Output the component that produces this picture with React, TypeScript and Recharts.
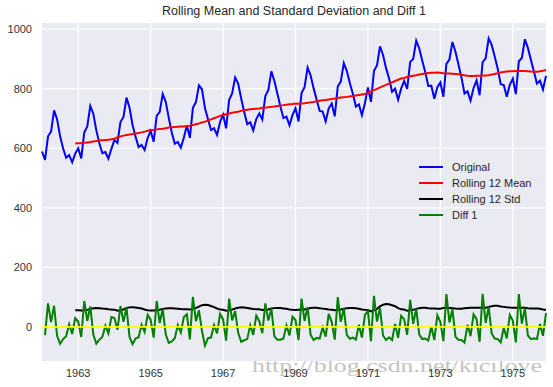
import React from 'react';
import { LineChart, Line, XAxis, YAxis, CartesianGrid, ReferenceLine, Legend } from 'recharts';

// Monthly series, Jan 1962 .. Dec 1975
const START_YEAR = 1962;

const ORIGINAL = [
  589, 561, 640, 656, 727, 697, 640, 599, 568, 577, 553, 582,
  600, 566, 653, 673, 742, 716, 660, 617, 583, 587, 565, 598,
  628, 618, 688, 705, 770, 736, 678, 639, 604, 611, 594, 634,
  658, 622, 709, 722, 782, 756, 702, 653, 615, 621, 602, 635,
  677, 635, 736, 755, 811, 798, 735, 697, 661, 667, 645, 688,
  713, 667, 762, 784, 837, 817, 767, 722, 681, 687, 660, 698,
  717, 696, 775, 796, 858, 826, 783, 740, 701, 706, 677, 711,
  734, 690, 785, 805, 871, 845, 801, 764, 725, 723, 690, 734,
  750, 707, 807, 824, 886, 859, 819, 783, 740, 747, 711, 751,
  804, 756, 860, 878, 942, 913, 869, 834, 790, 800, 763, 800,
  826, 799, 890, 900, 961, 935, 894, 855, 809, 810, 766, 805,
  821, 773, 883, 898, 957, 924, 881, 837, 784, 791, 760, 802,
  828, 778, 889, 902, 969, 947, 908, 867, 815, 812, 773, 813,
  834, 782, 892, 903, 966, 937, 896, 858, 817, 827, 797, 843,
];

// Rolling 12 mean, from Dec 1962
const ROLL_MEAN = [
  615.8,
  616.7, 617.1, 618.2, 619.6, 620.8, 622.4, 624.1, 625.6, 626.8, 627.7, 628.7, 630.0,
  632.3, 636.7, 639.6, 642.3, 644.6, 646.3, 647.8, 649.6, 651.3, 653.3, 655.8, 658.8,
  661.3, 661.6, 663.3, 664.8, 665.8, 667.4, 669.4, 670.6, 671.5, 672.3, 673.0, 673.1,
  674.7, 675.8, 678.0, 680.8, 683.2, 686.7, 689.4, 693.1, 696.9, 700.8, 704.3, 708.8,
  711.8, 714.4, 716.6, 719.0, 721.2, 722.8, 725.4, 727.5, 729.2, 730.8, 732.1, 732.9,
  733.3, 735.7, 736.8, 737.8, 739.5, 740.3, 741.6, 743.1, 744.8, 746.3, 747.8, 748.8,
  750.3, 749.8, 750.6, 751.3, 752.4, 754.0, 755.5, 757.5, 759.5, 760.9, 762.0, 763.9,
  765.3, 766.7, 768.5, 770.1, 771.3, 772.5, 774.0, 775.6, 776.8, 778.8, 780.6, 782.0,
  786.5, 790.6, 795.0, 799.5, 804.2, 808.7, 812.8, 817.1, 821.3, 825.7, 830.0, 834.1,
  835.9, 839.5, 842.0, 843.8, 845.4, 847.3, 849.3, 851.1, 852.7, 853.5, 853.8, 854.2,
  853.8, 851.6, 851.0, 850.8, 850.5, 849.6, 848.5, 847.0, 844.9, 843.3, 842.8, 842.6,
  843.2, 843.6, 844.1, 844.4, 845.4, 847.3, 849.6, 852.1, 854.7, 856.4, 857.5, 858.4,
  858.9, 859.3, 859.5, 859.6, 859.3, 858.5, 857.5, 856.8, 856.9, 858.2, 860.2, 862.7,
];

// Rolling 12 std, from Dec 1962
const ROLL_STD = [
  56.1,
  55.7, 55.3, 55.9, 57.1, 59.8, 62.2, 63.0, 62.6, 61.4, 60.8, 59.5, 58.5,
  57.8, 54.2, 56.1, 58.5, 63.2, 65.5, 66.0, 65.4, 63.7, 61.9, 58.6, 56.2,
  55.4, 55.1, 56.4, 57.7, 59.8, 62.1, 62.9, 62.4, 61.4, 60.6, 59.7, 59.6,
  59.4, 58.5, 60.4, 63.2, 67.9, 72.9, 74.1, 73.2, 69.9, 66.5, 61.7, 58.1,
  57.2, 54.0, 55.4, 57.8, 61.9, 64.3, 65.5, 64.9, 63.2, 61.7, 59.9, 59.3,
  59.2, 56.8, 57.5, 58.5, 61.9, 63.0, 63.8, 63.5, 62.0, 60.6, 58.5, 57.6,
  57.0, 57.5, 58.0, 58.7, 60.9, 63.2, 64.2, 64.0, 62.5, 61.3, 59.8, 58.4,
  57.8, 56.0, 57.0, 58.3, 60.8, 62.4, 63.4, 63.4, 62.4, 60.9, 58.4, 57.3,
  56.7, 52.0, 55.7, 60.2, 69.1, 74.5, 76.5, 76.1, 72.8, 69.4, 62.9, 58.8,
  58.1, 53.9, 55.6, 57.2, 60.4, 62.9, 64.1, 63.9, 62.5, 61.8, 61.4, 61.0,
  61.2, 63.8, 63.4, 63.3, 62.6, 61.4, 60.6, 60.7, 62.5, 63.7, 64.4, 64.5,
  64.3, 63.9, 64.2, 64.5, 66.5, 69.3, 70.9, 70.9, 68.7, 67.2, 65.6, 64.8,
  64.6, 64.2, 64.3, 64.3, 63.9, 62.7, 61.9, 61.9, 61.7, 60.9, 58.2, 56.6,
];

// First difference, from Feb 1962
const DIFF1 = [
  -28, 79, 16, 71, -30, -57, -41, -31, 9, -24, 29,
  18, -34, 87, 20, 69, -26, -56, -43, -34, 4, -22, 33,
  30, -10, 70, 17, 65, -34, -58, -39, -35, 7, -17, 40,
  24, -36, 87, 13, 60, -26, -54, -49, -38, 6, -19, 33,
  42, -42, 101, 19, 56, -13, -63, -38, -36, 6, -22, 43,
  25, -46, 95, 22, 53, -20, -50, -45, -41, 6, -27, 38,
  19, -21, 79, 21, 62, -32, -43, -43, -39, 5, -29, 34,
  23, -44, 95, 20, 66, -26, -44, -37, -39, -2, -33, 44,
  16, -43, 100, 17, 62, -27, -40, -36, -43, 7, -36, 40,
  53, -48, 104, 18, 64, -29, -44, -35, -44, 10, -37, 37,
  26, -27, 91, 10, 61, -26, -41, -39, -46, 1, -44, 39,
  16, -48, 110, 15, 59, -33, -43, -44, -53, 7, -31, 42,
  26, -50, 111, 13, 67, -22, -39, -41, -52, -3, -39, 40,
  21, -52, 110, 11, 63, -29, -41, -38, -41, 10, -30, 46,
];

const X_TICK_LABELS = ['1963', '1965', '1967', '1969', '1971', '1973', '1975'];
const Y_TICKS = [0, 200, 400, 600, 800, 1000];

const SERIES = [
  { key: 'original', name: 'Original', color: '#0000ff' },
  { key: 'mean', name: 'Rolling 12 Mean', color: '#ff0000' },
  { key: 'std', name: 'Rolling 12 Std', color: '#000000' },
  { key: 'diff', name: 'Diff 1', color: '#008000' },
];

const rows = ORIGINAL.map((v, i) => ({
  i,
  original: v,
  mean: i >= 11 ? ROLL_MEAN[i - 11] : null,
  std: i >= 11 ? ROLL_STD[i - 11] : null,
  diff: i >= 1 ? DIFF1[i - 1] : null,
}));

const xTicks = X_TICK_LABELS.map((y) => (Number(y) - START_YEAR) * 12);

const FONT = '"Liberation Sans", Arial, Helvetica, sans-serif';

const renderLegend = () => (
  <div style={{ fontFamily: FONT, fontSize: 11, color: '#262626' }}>
    {SERIES.map((s) => (
      <div key={s.key} style={{ display: 'flex', alignItems: 'center', height: 16 }}>
        <div style={{ width: 24, height: 2, background: s.color, marginRight: 9 }} />
        <span>{s.name}</span>
      </div>
    ))}
  </div>
);

export default function App() {
  return (
    <div style={{ position: 'absolute', left: 0, top: 0, width: 553, height: 387, background: '#fff', overflow: 'hidden' }}>
      <svg width={553} height={387} style={{ position: 'absolute', left: 0, top: 0 }}>
        <text
          x={252}
          y={372}
          fontFamily='"Liberation Serif", "Times New Roman", serif'
          fontSize={19}
          fill="#c4c4c4"
          textLength={290}
          lengthAdjust="spacingAndGlyphs"
        >
          http://blog.csdn.net/kicilove
        </text>
      </svg>
      <div
        style={{
          position: 'absolute',
          left: 42,
          width: 504,
          top: 4,
          textAlign: 'center',
          fontFamily: FONT,
          fontSize: 12.5,
          color: '#262626',
        }}
      >
        Rolling Mean and Standard Deviation and Diff 1
      </div>
      <div style={{ position: 'absolute', left: 0, top: 0 }}>
        <LineChart width={553} height={387} data={rows} margin={{ top: 23, right: 7, bottom: 0, left: 0 }}>
          <CartesianGrid
            stroke="#ffffff"
            strokeWidth={1.2}
            fill="#eaeaf2"
            fillOpacity={1}
            horizontalValues={Y_TICKS}
            verticalValues={xTicks}
          />
          <XAxis
            dataKey="i"
            type="number"
            domain={[0, 167]}
            ticks={xTicks}
            tickFormatter={(v: number) => String(START_YEAR + v / 12)}
            tickLine={false}
            axisLine={false}
            height={26}
            tick={{ fontSize: 11, fill: '#333', fontFamily: FONT }}
            interval={0}
          />
          <YAxis
            type="number"
            domain={[-114.6, 1020.6]}
            ticks={Y_TICKS}
            allowDataOverflow
            tickLine={false}
            axisLine={false}
            width={42}
            tickMargin={4}
            tick={{ fontSize: 11, fill: '#333', fontFamily: FONT }}
            interval={0}
          />
          <Legend
            verticalAlign="middle"
            align="center"
            layout="vertical"
            wrapperStyle={{ position: 'absolute', left: 419, top: 159, width: 130, height: 64 }}
            content={renderLegend}
          />
          {SERIES.map((s) => (
            <Line
              key={s.key}
              dataKey={s.key}
              name={s.name}
              type="linear"
              stroke={s.color}
              strokeWidth={2}
              dot={false}
              activeDot={false}
              isAnimationActive={false}
            />
          ))}
          <ReferenceLine y={0} stroke="#ffff00" strokeWidth={1.6} />
        </LineChart>
      </div>
    </div>
  );
}
